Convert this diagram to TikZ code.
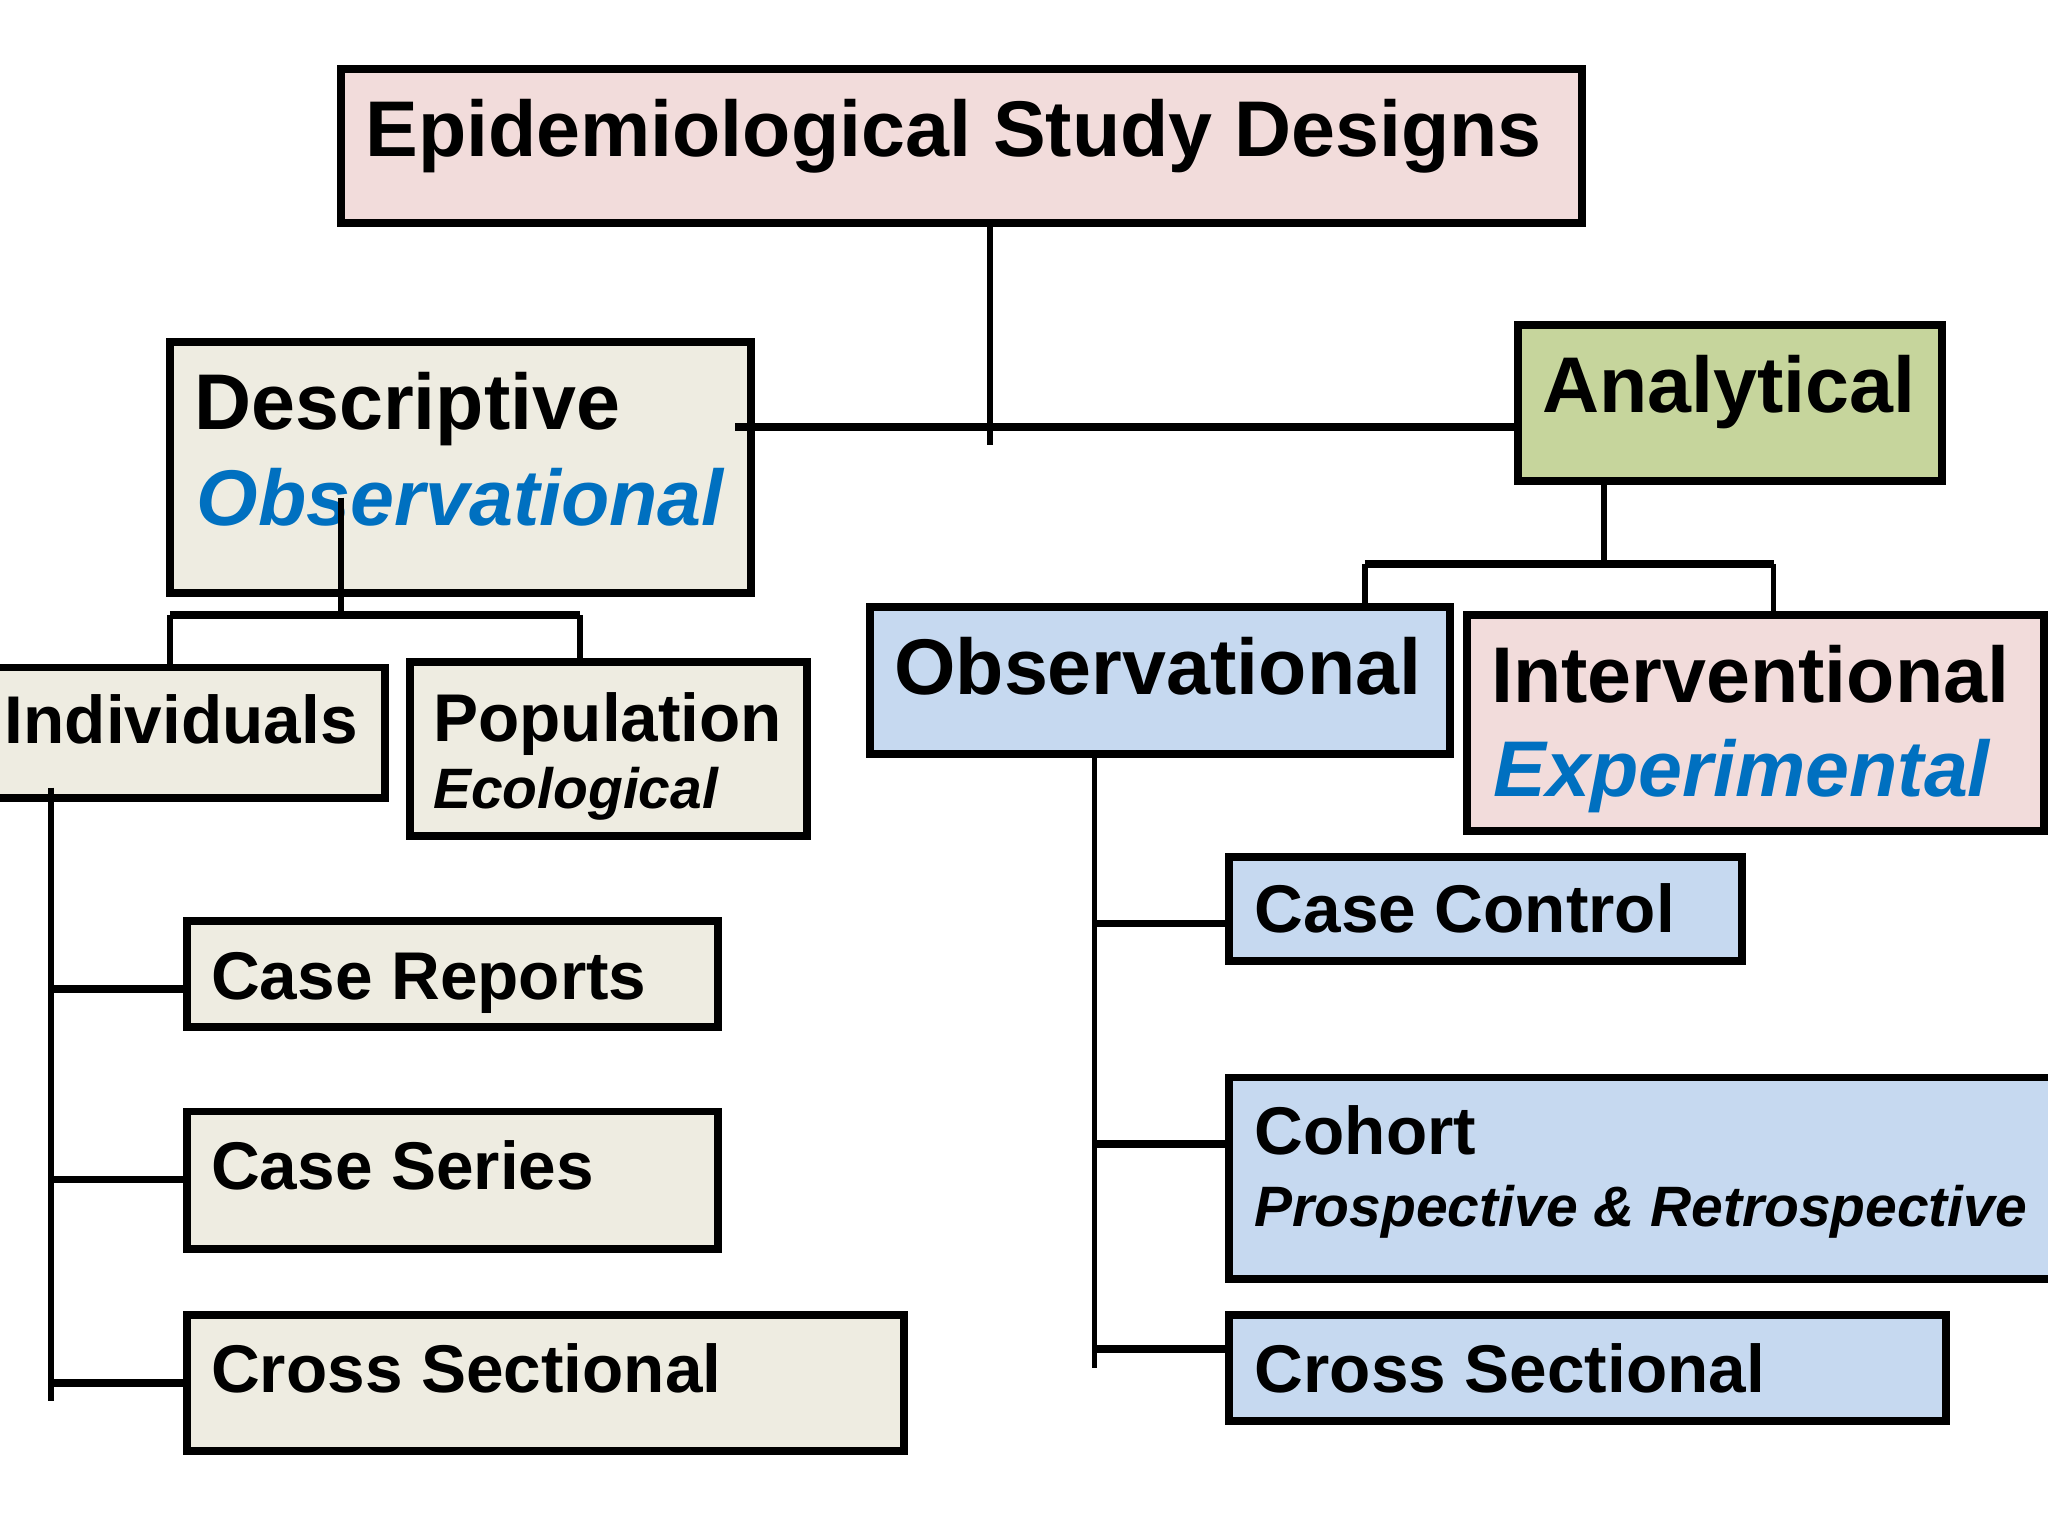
\documentclass[tikz,border=0pt]{standalone}
\usepackage{fontspec}
\setmainfont{Liberation Sans}
\usetikzlibrary{fit}
\definecolor{pinkfill}{HTML}{F2DCDB}
\definecolor{beigefill}{HTML}{EEECE1}
\definecolor{greenfill}{HTML}{C6D59C}
\definecolor{bluefill}{HTML}{C6D9F0}
\definecolor{bluetext}{HTML}{0070C0}
\tikzset{
  box/.style={draw=black, line width=1.7pt, inner sep=0pt, outer sep=0pt},
  bigtxt/.style={anchor=base west, inner sep=0pt, font=\bfseries\fontsize{17.2}{20}\selectfont},
  midtxt/.style={anchor=base west, inner sep=0pt, font=\bfseries\fontsize{14.7}{18}\selectfont},
  smalltxt/.style={anchor=base west, inner sep=0pt, font=\bfseries\itshape\fontsize{12.4}{15}\selectfont},
  bluetxt/.style={anchor=base west, inner sep=0pt, text=bluetext, font=\bfseries\itshape\fontsize{17.2}{20}\selectfont},
  vline/.style={line width=1.2pt},
  hline/.style={line width=1.7pt}
}
\begin{document}
\begin{tikzpicture}[x=0.01cm, y=-0.01cm]
\fill[white] (0,0) rectangle (1568,1176);
\useasboundingbox (0,0) rectangle (1568,1176);
% boxes
\node[box, fill=pinkfill, fit={(261,53) (1211,171)}] (title) {};
\node[box, fill=beigefill, fit={(130,262) (575,454)}] (desc) {};
\node[box, fill=greenfill, fit={(1162,249) (1487,368)}] (anal) {};
\node[box, fill=beigefill, fit={(-10,511) (295,611)}] (indiv) {};
\node[box, fill=beigefill, fit={(314,507) (618,640)}] (popu) {};
\node[box, fill=bluefill, fit={(666,465) (1110,577)}] (obs) {};
\node[box, fill=pinkfill, fit={(1123,471) (1565,636)}] (interv) {};
\node[box, fill=beigefill, fit={(143,705) (550,786)}] (cr) {};
\node[box, fill=beigefill, fit={(143,851) (550,956)}] (cs) {};
\node[box, fill=beigefill, fit={(143,1007) (692,1111)}] (csl) {};
\node[box, fill=bluefill, fit={(941,656) (1334,736)}] (cc) {};
\node[box, fill=bluefill, fit={(941,825) (1580,979)}] (coh) {};
\node[box, fill=bluefill, fit={(941,1007) (1490,1088)}] (csr) {};
% texts
\node[bigtxt] (ttitle) at (279,120) {Epidemiological Study Designs};
\node[bigtxt] (tdesc) at (148,329) {Descriptive};
\node[bluetxt] (tdescobs) at (150,402) {Observational};
\node[bigtxt] (tanal) at (1180,316) {Analytical};
\node[midtxt] (tindiv) at (3,569) {Individuals};
\node[midtxt] (tpopu) at (331,568) {Population};
\node[smalltxt] (teco) at (331,619) {Ecological};
\node[bigtxt] (tobs) at (684,532) {Observational};
\node[bigtxt] (tinterv) at (1141,538) {Interventional};
\node[bluetxt] (texp) at (1143,610) {Experimental};
\node[midtxt] (tcr) at (161,765) {Case Reports};
\node[midtxt] (tcs) at (161,911) {Case Series};
\node[midtxt] (tcsl) at (161,1066) {Cross Sectional};
\node[midtxt] (tcc) at (960,714) {Case Control};
\node[midtxt] (tcoh) at (960,884) {Cohort};
\node[smalltxt] (tpros) at (960,939) {Prospective \& Retrospective};
\node[midtxt] (tcsr) at (960,1066) {Cross Sectional};
% junction coordinates
\coordinate (tj) at (758,341);
\coordinate (mh) at (563,327);
\coordinate (dv) at (261,381);
\coordinate (db) at (261,471);
\coordinate (dbl) at (130,471);
\coordinate (dbr) at (444,471);
\coordinate (ab) at (1228,432);
\coordinate (abl) at (1045,432);
\coordinate (abr) at (1358,432);
\coordinate (lvt) at (39,603);
\coordinate (lvb) at (39,1073);
\coordinate (s1) at (39,757);
\coordinate (s2) at (39,903);
\coordinate (s3) at (39,1059);
\coordinate (rvb) at (838,1047);
\coordinate (r1) at (838,707);
\coordinate (r2) at (838,876);
\coordinate (r3) at (838,1033);
% connectors
\draw[vline] (title.south -| tj) -- (tj);
\draw[hline] (mh) -- (anal.west |- mh);
\draw[vline] (dv) -- (db);
\draw[hline] (dbl) -- (dbr);
\draw[vline] (dbl) -- (indiv.north -| dbl);
\draw[vline] (dbr) -- (popu.north -| dbr);
\draw[vline] (anal.south -| ab) -- (ab);
\draw[hline] (abl) -- (abr);
\draw[vline] (abl) -- (obs.north -| abl);
\draw[vline] (abr) -- (interv.north -| abr);
\draw[vline] (lvt) -- (lvb);
\draw[hline] (s1) -- (cr.west |- s1);
\draw[hline] (s2) -- (cs.west |- s2);
\draw[hline] (s3) -- (csl.west |- s3);
\draw[vline] (obs.south -| rvb) -- (rvb);
\draw[hline] (r1) -- (cc.west |- r1);
\draw[hline] (r2) -- (coh.west |- r2);
\draw[hline] (r3) -- (csr.west |- r3);
\end{tikzpicture}
\end{document}
